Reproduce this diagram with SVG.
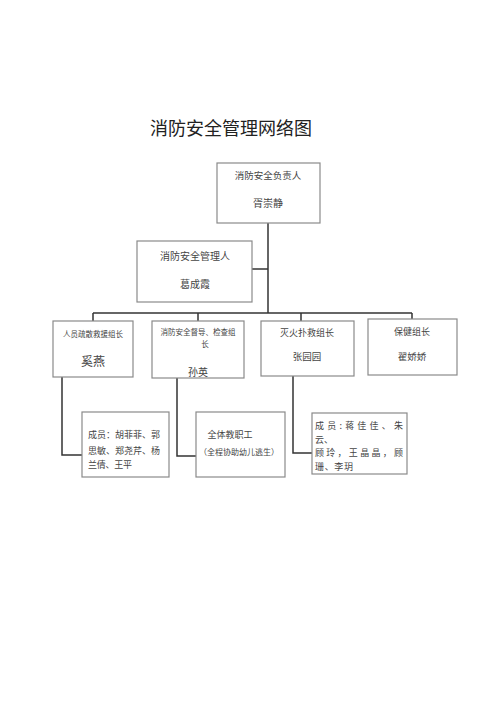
<svg xmlns="http://www.w3.org/2000/svg" width="500" height="707" viewBox="0 0 500 707">
<style>
.box{fill:#fff;stroke:#8a8a8a;stroke-width:1.2}
.t{font-family:"Noto Sans CJK SC","Noto Sans",sans-serif;fill:#444;text-anchor:middle;dominant-baseline:central}
.l{font-family:"Noto Sans CJK SC","Noto Sans",sans-serif;fill:#444;dominant-baseline:central}
.c{fill:none;stroke:#333;stroke-width:1.5}
</style>
<rect width="500" height="707" fill="#fff"/>
<text x="231" y="127" class="t" style="font-size:18px;fill:#222">消防安全管理网络图</text>
<g id="connectors">
<path class="c" d="M268 223V313"/>
<path class="c" d="M252 269H268"/>
<path class="c" d="M93 313H412"/>
<path class="c" d="M93 313V321M198 313V321M301 313V321M412 313V319"/>
<path class="c" d="M62 377V455H82"/>
<path class="c" d="M177 378V456H196"/>
<path class="c" d="M293 376V453H312"/>
</g>
<g id="n1"><rect class="box" x="217" y="163" width="103" height="60"/>
<text x="268" y="175" class="t" style="font-size:9.5px">消防安全负责人</text>
<text x="268" y="202" class="t" style="font-size:10px">胥崇静</text></g>
<g id="n2"><rect class="box" x="137" y="241" width="115" height="61"/>
<text x="195" y="255" class="t" style="font-size:10px">消防安全管理人</text>
<text x="195" y="283" class="t" style="font-size:10px">葛成霞</text></g>
<g id="nA"><rect class="box" x="53" y="321" width="80" height="56"/>
<text x="93" y="333" class="t" style="font-size:7.5px">人员疏散救援组长</text>
<text x="93" y="360" class="t" style="font-size:12px">奚燕</text></g>
<g id="nB"><rect class="box" x="152" y="321" width="92" height="57"/>
<text x="198" y="331" class="t" style="font-size:7.5px">消防安全督导、检查组</text>
<text x="205" y="343" class="t" style="font-size:7.5px">长</text>
<text x="198" y="371" class="t" style="font-size:10px">孙英</text></g>
<g id="nC"><rect class="box" x="261" y="321" width="93" height="55"/>
<text x="307" y="332" class="t" style="font-size:9px">灭火扑救组长</text>
<text x="307" y="356" class="t" style="font-size:9.5px">张园园</text></g>
<g id="nD"><rect class="box" x="368" y="319" width="89" height="56"/>
<text x="412" y="331" class="t" style="font-size:9px">保健组长</text>
<text x="412" y="356" class="t" style="font-size:9.5px">翟娇娇</text></g>
<g id="nE"><rect class="box" x="82" y="412" width="87" height="65"/>
<text x="88" y="434" class="l" style="font-size:9px" textLength="72" lengthAdjust="spacing">成员：胡菲菲、郭</text>
<text x="88" y="450" class="l" style="font-size:9px" textLength="72" lengthAdjust="spacing">思敏、郑尧芹、杨</text>
<text x="88" y="464" class="l" style="font-size:9px" textLength="44" lengthAdjust="spacing">兰倩、王平</text></g>
<g id="nF"><rect class="box" x="196" y="412" width="89" height="65"/>
<text x="230" y="434" class="t" style="font-size:9px">全体教职工</text>
<text x="239" y="451" class="t" style="font-size:8px">（全程协助幼儿逃生）</text></g>
<g id="nG"><rect class="box" x="312" y="413" width="95" height="61"/>
<text x="315" y="425" class="l" style="font-size:9px" textLength="88" lengthAdjust="spacing">成员:蒋佳佳、朱</text>
<text x="315" y="439" class="l" style="font-size:9px">云、</text>
<text x="315" y="452" class="l" style="font-size:9px" textLength="88" lengthAdjust="spacing">顾玲，王晶晶，顾</text>
<text x="315" y="466" class="l" style="font-size:9px" textLength="38" lengthAdjust="spacing">珊、李玥</text></g>
</svg>
